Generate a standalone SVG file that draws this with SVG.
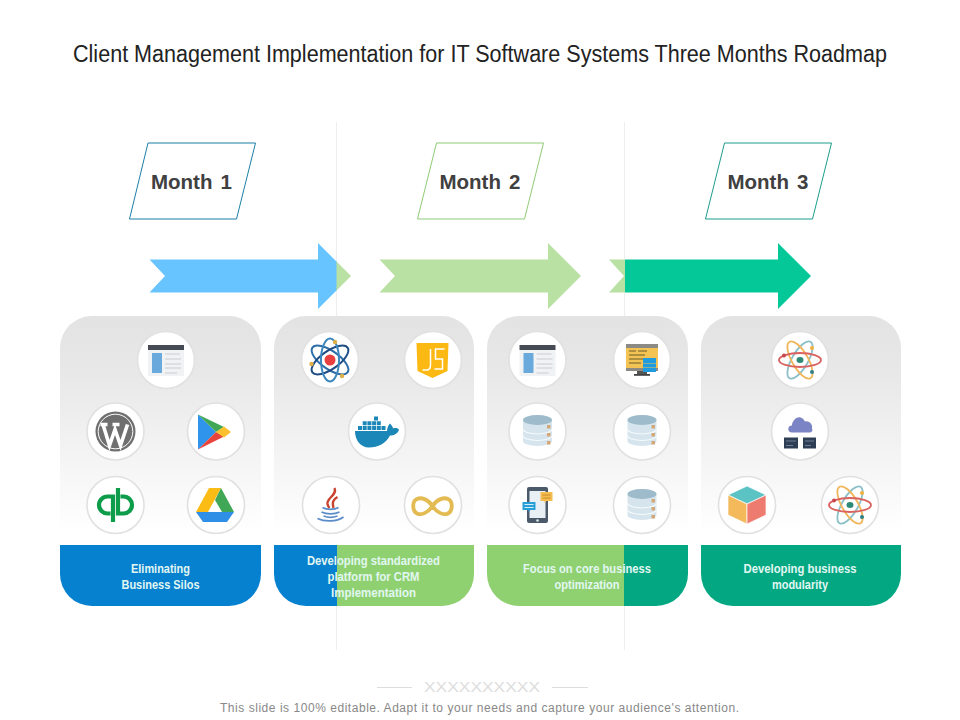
<svg xmlns="http://www.w3.org/2000/svg" width="960" height="720" viewBox="0 0 960 720">
<style>
.ti{font-family:"Liberation Sans",Arial,sans-serif;font-size:23.500px;fill:#222}
.mo{font-family:"Liberation Sans",Arial,sans-serif;font-size:20.500px;font-weight:bold;fill:#404040;text-anchor:middle;word-spacing:2.500px}
.bt{font-family:"Liberation Sans",Arial,sans-serif;font-size:13px;font-weight:bold;fill:#e2f7f2;text-anchor:middle}
.ci{fill:#fff;stroke:#e2e0e0;stroke-width:1.6}
.vl{stroke:#eeeeee;stroke-width:1}
.pa{fill:#fff;stroke-width:1}
</style>
<defs>
<linearGradient id="cg" x1="0" y1="0" x2="0" y2="1">
<stop offset="0" stop-color="#e4e3e4"/><stop offset="0.25" stop-color="#e9e8e9"/><stop offset="0.55" stop-color="#f2f2f2"/><stop offset="0.95" stop-color="#ffffff"/>
</linearGradient>
<g id="i-browser">
<rect x="-18" y="-10" width="36" height="26" fill="#f0f2f4"/>
<rect x="-18" y="-15" width="36" height="5" fill="#454a55"/>
<rect x="-14" y="-7" width="10" height="20" fill="#6aa9dc"/>
<path d="M-1-6H14M-1-1H15M-1 4H15M-1 8H15M-1 13H11" stroke="#c9ccd0" stroke-width="1.2" fill="none"/>
</g>
<g id="i-db">
<path d="M-14.500-11V10A14.500 5 0 0 0 14.500 10V-11Z" fill="#d6e5ed"/>
<path d="M-14.500-2A14.500 5 0 0 0 14.500-2M-14.500 4.500A14.500 5 0 0 0 14.500 4.500" fill="none" stroke="#f5fafc" stroke-width="1.2"/>
<ellipse cx="0" cy="-11" rx="14.500" ry="5" fill="#9dbbca"/>
<rect x="9.500" y="-6" width="3.500" height="3.500" fill="#d2a878"/>
<rect x="9.500" y="2" width="3.500" height="3.500" fill="#d2a878"/>
<rect x="9.500" y="10" width="3.500" height="3.500" fill="#d2a878"/>
</g>
<g id="i-atom" fill="none" stroke-width="1.800">
<ellipse rx="21" ry="8" stroke="#8cc0c9" transform="rotate(-60)"/>
<ellipse rx="21" ry="8" stroke="#f0b65c" transform="rotate(60)"/>
<ellipse rx="21" ry="7" stroke="#d9625f"/>
<ellipse rx="3.500" ry="3" fill="#2c8a77" stroke="none"/>
<circle cx="-16" cy="-4.500" r="2" fill="#c8474f" stroke="none"/>
<circle cx="12" cy="-12" r="2" fill="#f0b040" stroke="none"/>
<circle cx="12" cy="12" r="2" fill="#2f7f86" stroke="none"/>
</g>
</defs>

<rect width="960" height="720" fill="#fff"/>
<text class="ti" x="73" y="62" textLength="814" lengthAdjust="spacingAndGlyphs">Client Management Implementation for IT Software Systems Three Months Roadmap</text>

<g id="dividers">
<line class="vl" x1="336.500" y1="122" x2="336.500" y2="650"/>
<line class="vl" x1="624.500" y1="122" x2="624.500" y2="650"/>
</g>

<g id="month-1">
<polygon class="pa" points="148,143 255.500,143 236.500,219 129.500,219" stroke="#1b7fa8"/>
<text class="mo" x="191.500" y="189">Month 1</text>
</g>
<g id="month-2">
<polygon class="pa" points="436.500,143 543.500,143 524.500,219 417.500,219" stroke="#8fcb78"/>
<text class="mo" x="480" y="189">Month 2</text>
</g>
<g id="month-3">
<polygon class="pa" points="724.500,143 831.500,143 812.500,219 705.500,219" stroke="#1b9c8c"/>
<text class="mo" x="768" y="189">Month 3</text>
</g>

<g id="connectors">
<polygon points="336,261 336,291 351,276" fill="#b9e1a3"/>
<polygon points="149.500,259.500 318,259.500 318,243 336.500,261.500 336.500,290.500 318,309 318,292.500 149.500,292.500 165,276" fill="#68c4fe"/>
<polygon points="379.500,259.500 548,259.500 548,243 581,276 548,309 548,292.500 379.500,292.500 395,276" fill="#b9e1a3"/>
<polygon points="609,259.500 625,259.500 625,292.500 609,292.500 624,276" fill="#b9e1a3"/>
<polygon points="625,259.500 778,259.500 778,243 811,276 778,309 778,292.500 625,292.500" fill="#05c898"/>
</g>

<g id="card-1">
<path d="M60 545V348A32 32 0 0 1 92 316H229A32 32 0 0 1 261 348V545Z" fill="url(#cg)"/>
<path d="M60 545H261V574A32 32 0 0 1 229 606H92A32 32 0 0 1 60 574Z" fill="#0681d0"/>
<circle class="ci" cx="166" cy="360" r="28.500"/><use href="#i-browser" x="166" y="360"/>
<circle class="ci" cx="115.500" cy="431.500" r="28.500"/>
<g transform="translate(115.500 431.500)">
<circle r="20" fill="#6f6f6f"/>
<circle r="17.300" fill="none" stroke="#fff" stroke-width="1"/>
<path d="M-12.500-7L-6 14L-0.500-2L5 14L12-7M-15-7H-8M-3-7H4" fill="none" stroke="#fff" stroke-width="3.600"/>
</g>
<circle class="ci" cx="216" cy="431.500" r="28.500"/>
<g transform="translate(216 431.500)">
<polygon points="-18,-17 -18,18 0,0.500" fill="#2f95ec"/>
<polygon points="-18,-17 8,-4.500 0,0.500" fill="#3fa755"/>
<polygon points="-18,18 8,5 0,0.500" fill="#e8443c"/>
<polygon points="0,0.500 8,-5 15,0.500 8,6" fill="#fbc02d"/>
</g>
<circle class="ci" cx="115.500" cy="505" r="28.500"/>
<g transform="translate(115.500 505)" fill="none" stroke="#0c9c4a" stroke-width="4.200">
<path d="M-2.500 17V-8.500H-8A8.500 8.500 0 0 0-8 8.500H-5"/>
<path d="M2.500-17V8.500H8A8.500 8.500 0 0 0 8-8.500H5"/>
</g>
<circle class="ci" cx="216" cy="505" r="28.500"/>
<g transform="translate(216 505)">
<polygon points="-7,-17 5,-17 -8,7 -20,7" fill="#fbbc15"/>
<polygon points="5,-17 18,7 6,7 -1,-5" fill="#3fa755"/>
<polygon points="-20,7 18,7 11,17 -13,17" fill="#2f8fe6"/>
</g>
<text class="bt" x="160.500" y="573" textLength="59" lengthAdjust="spacingAndGlyphs">Eliminating</text>
<text class="bt" x="160.500" y="589" textLength="78" lengthAdjust="spacingAndGlyphs">Business Silos</text>
</g>

<g id="card-2">
<path d="M274 545V348A32 32 0 0 1 306 316H442A32 32 0 0 1 474 348V545Z" fill="url(#cg)"/>
<path d="M274 545H337V606H306A32 32 0 0 1 274 574Z" fill="#0681d0"/>
<path d="M337 545H474V574A32 32 0 0 1 442 606H337Z" fill="#8fd170"/>
<circle class="ci" cx="330" cy="360" r="28.500"/>
<g transform="translate(330 360)" fill="none" stroke-width="2">
<ellipse rx="21.500" ry="9" stroke="#2d6ea8" transform="rotate(35)"/>
<ellipse rx="21.500" ry="9" stroke="#1f4e86" transform="rotate(-35)"/>
<ellipse rx="21.500" ry="9" stroke="#3b86bd" transform="rotate(90)"/>
<circle r="5.500" fill="#e8403e" stroke="none"/>
<circle cx="5" cy="-18" r="2.200" fill="#e0b048" stroke="none"/>
<circle cx="-18.500" cy="4" r="2.200" fill="#e0b048" stroke="none"/>
<circle cx="12" cy="16" r="2.200" fill="#e0b048" stroke="none"/>
</g>
<circle class="ci" cx="433" cy="360" r="28.500"/>
<g transform="translate(432.500 360)">
<polygon points="-16,-17 16,-17 15,11 0,18 -15,11" fill="#fdb913"/>
<path d="M-2-11V5Q-2 10-6 10H-10M12-11H3V-1H10V9H2" fill="none" stroke="#fff" stroke-width="1.500"/>
</g>
<circle class="ci" cx="377" cy="431.500" r="28.500"/>
<g transform="translate(377 431.500)" fill="#1a87b8">
<path d="M-22-0.500H10C10-4 12-7 13-8C15-6 16-4 16-3C19-4 21-3 22-2C21 2 17 4 13 4C9 12 1 16-8 16C-17 16-22 8-22-0.500Z"/>
<path d="M-19-5.500h4v4h-4zM-14.300-5.500h4v4h-4zM-9.600-5.500h4v4h-4zM-4.900-5.500h4v4h-4zM-0.200-5.500h4v4h-4zM4.500-5.500h4v4h-4zM-14.300-10.300h4v4h-4zM-9.600-10.300h4v4h-4zM-4.900-10.300h4v4h-4zM-0.200-10.300h4v4h-4zM-3-15.100h4v4h-4z"/>
</g>
<circle class="ci" cx="331" cy="505" r="28.500"/>
<g transform="translate(330.500 505)" fill="none">
<path d="M4-17C7-10-4-7-3-1C-2.500 1-2 2-1 3M7-8C3-6 1-3 3 3" stroke="#c8442e" stroke-width="2.400"/>
<path d="M-8 2.500C-4 5 4 5 8 2.500M-9 7C-4 9.500 4 9.500 9 7M-7 11C-3 12.500 3 12.500 7 11M-13 13.500C-6 17 6 17 13 12" stroke="#5b8cc9" stroke-width="1.700"/>
</g>
<circle class="ci" cx="433" cy="505" r="28.500"/>
<path d="M432.500 506C428 499 421 497 417 499C412 501 412 511 417 513.500C421 515.500 428 513 432.500 506C437 499 444 497 448 499C453 501 453 511 448 513.500C444 515.500 437 513 432.500 506Z" fill="none" stroke="#e3bb52" stroke-width="3.800"/>
<text class="bt" x="373.500" y="565" textLength="133" lengthAdjust="spacingAndGlyphs">Developing standardized</text>
<text class="bt" x="373.500" y="581" textLength="92" lengthAdjust="spacingAndGlyphs">platform for CRM</text>
<text class="bt" x="373.500" y="597" textLength="85" lengthAdjust="spacingAndGlyphs">Implementation</text>
</g>

<g id="card-3">
<path d="M487 545V348A32 32 0 0 1 519 316H656A32 32 0 0 1 688 348V545Z" fill="url(#cg)"/>
<path d="M487 545H624V606H519A32 32 0 0 1 487 574Z" fill="#8fd170"/>
<path d="M624 545H688V574A32 32 0 0 1 656 606H624Z" fill="#03a883"/>
<circle class="ci" cx="537.500" cy="360" r="28.500"/><use href="#i-browser" x="537.500" y="360"/>
<circle class="ci" cx="642" cy="360" r="28.500"/>
<g transform="translate(642 360)">
<rect x="-16" y="-16" width="32" height="27" fill="#8c8a84"/>
<rect x="-16" y="-12" width="32" height="20" fill="#f3c453"/>
<path d="M-13-9H-6M-4-9H5M-13-5H3M-13-1H1M-13 3H-1" stroke="#6b5a2a" stroke-width="1.100"/>
<rect x="-5" y="11" width="10" height="3" fill="#555"/>
<rect x="-8" y="14" width="16" height="1.800" fill="#444"/>
<rect x="1" y="-2" width="13" height="5" fill="#1f9be0"/>
<rect x="1" y="3.500" width="13" height="4" fill="#1f9be0"/>
<rect x="1" y="8" width="13" height="4" fill="#1f9be0"/>
</g>
<circle class="ci" cx="537.500" cy="431.500" r="28.500"/><use href="#i-db" x="537.500" y="431"/>
<circle class="ci" cx="642" cy="431.500" r="28.500"/><use href="#i-db" x="642" y="431"/>
<circle class="ci" cx="537.500" cy="505" r="28.500"/>
<g transform="translate(537.500 505)">
<rect x="-10.500" y="-18" width="21" height="36" rx="2" fill="#4a5a6a"/>
<rect x="-8" y="-14" width="16" height="27" fill="#e8f0f5"/>
<circle cy="15.500" r="1.300" fill="#dfe6ea"/>
<path d="M3-13H15V-4H9L7-2V-4H3Z" fill="#f5bd4f"/>
<path d="M5-10H13M5-7H13" stroke="#c98a2a" stroke-width="1"/>
<path d="M-15-3H-2V5H-7L-9 7V5H-15Z" fill="#27a0d8"/>
<path d="M-13-0.500H-4M-13 2.500H-4" stroke="#d5eef8" stroke-width="1"/>
</g>
<circle class="ci" cx="642" cy="505" r="28.500"/><use href="#i-db" x="642" y="505"/>
<text class="bt" x="587" y="573" textLength="128" lengthAdjust="spacingAndGlyphs">Focus on core business</text>
<text class="bt" x="587" y="589" textLength="65" lengthAdjust="spacingAndGlyphs">optimization</text>
</g>

<g id="card-4">
<path d="M701 545V348A32 32 0 0 1 733 316H869A32 32 0 0 1 901 348V545Z" fill="url(#cg)"/>
<path d="M701 545H901V574A32 32 0 0 1 869 606H733A32 32 0 0 1 701 574Z" fill="#03a883"/>
<circle class="ci" cx="800" cy="360" r="28.500"/><use href="#i-atom" x="800" y="360"/>
<circle class="ci" cx="800" cy="431.500" r="28.500"/>
<g transform="translate(800 431.500)">
<path d="M-8 1C-13 1-13-6-8-6C-8-12 0-19 5-10C10-11 13-6 12-3C13-1 12 1 9 1Z" fill="#7b84c4"/>
<rect x="-16" y="6" width="14" height="11" fill="#2e3f55"/>
<rect x="3" y="6" width="13" height="11" fill="#2e3f55"/>
<path d="M-14 9.500H-4M-14 14H-7M5 9.500H14M5 14H11" stroke="#7f93ad" stroke-width="0.800"/>
</g>
<circle class="ci" cx="747" cy="505" r="28.500"/>
<g transform="translate(747 505)" stroke="#fff" stroke-width="0.700">
<polygon points="0,-19 19,-10 0,-1 -19,-10" fill="#5cc3c5"/>
<polygon points="-19,-10 0,-1 0,19 -19,10" fill="#f3b95b"/>
<polygon points="19,-10 0,-1 0,19 19,10" fill="#ee7b6f"/>
</g>
<circle class="ci" cx="850" cy="505" r="28.500"/><use href="#i-atom" x="850" y="505"/>
<text class="bt" x="800" y="573" textLength="113" lengthAdjust="spacingAndGlyphs">Developing business</text>
<text class="bt" x="800" y="589" textLength="56" lengthAdjust="spacingAndGlyphs">modularity</text>
</g>

<g id="footer">
<line x1="377" y1="687.500" x2="412" y2="687.500" stroke="#dddddd"/>
<line x1="552" y1="687.500" x2="588" y2="687.500" stroke="#dddddd"/>
<text x="424" y="692" textLength="116" lengthAdjust="spacingAndGlyphs" font-family="Liberation Sans, sans-serif" font-size="14" fill="#dddddd">XXXXXXXXXX</text>
<text x="220" y="712" textLength="519" lengthAdjust="spacing" font-family="Liberation Sans, sans-serif" font-size="12" fill="#888888">This slide is 100% editable. Adapt it to your needs and capture your audience's attention.</text>
</g>
</svg>
